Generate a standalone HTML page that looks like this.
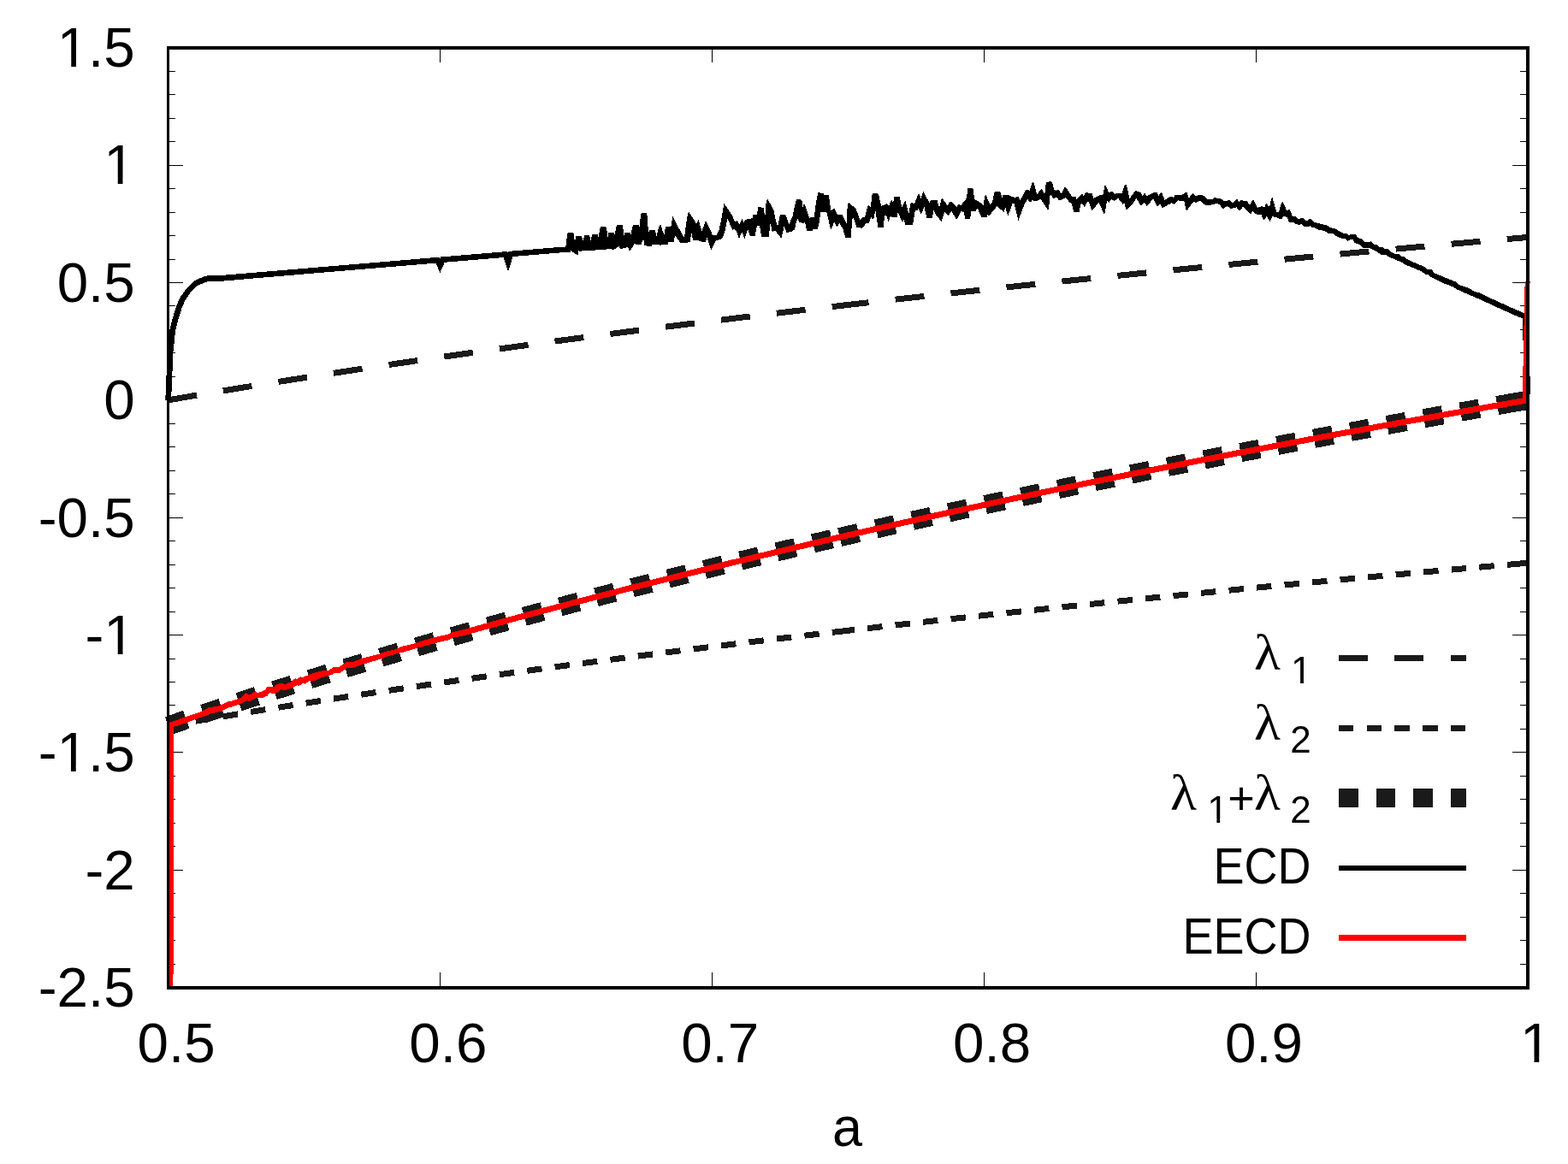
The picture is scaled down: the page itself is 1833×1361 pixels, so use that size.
<!DOCTYPE html>
<html lang="en"><head><meta charset="utf-8"><title>ECD and EECD versus a</title>
<style>html,body{margin:0;padding:0;background:#fff}body{width:1833px;height:1361px;overflow:hidden}svg{display:block}.t{font-family:"Liberation Sans",sans-serif;font-size:65.5px;fill:#000}.k{font-family:"Liberation Sans",sans-serif;font-size:54px;fill:#000}.ks{font-family:"Liberation Sans",sans-serif;font-size:44px;fill:#000}.g{font-family:"Liberation Serif",serif;font-size:58px;fill:#000}</style></head><body>
<svg width="1833" height="1361" viewBox="0 0 1833 1361">
<rect x="0" y="0" width="1833" height="1361" fill="#fff"/>
<defs><clipPath id="plot"><rect x="193.2" y="54" width="1596" height="1103"/></clipPath></defs>
<g fill="#000" shape-rendering="crispEdges">
<rect x="198" y="83" width="7" height="1"/>
<rect x="1777" y="83" width="7" height="1"/>
<rect x="198" y="110" width="7" height="1"/>
<rect x="1777" y="110" width="7" height="1"/>
<rect x="198" y="138" width="7" height="1"/>
<rect x="1777" y="138" width="7" height="1"/>
<rect x="198" y="165" width="7" height="1"/>
<rect x="1777" y="165" width="7" height="1"/>
<rect x="198" y="193" width="16" height="1"/>
<rect x="1768" y="193" width="16" height="1"/>
<rect x="198" y="220" width="7" height="1"/>
<rect x="1777" y="220" width="7" height="1"/>
<rect x="198" y="248" width="7" height="1"/>
<rect x="1777" y="248" width="7" height="1"/>
<rect x="198" y="275" width="7" height="1"/>
<rect x="1777" y="275" width="7" height="1"/>
<rect x="198" y="303" width="7" height="1"/>
<rect x="1777" y="303" width="7" height="1"/>
<rect x="198" y="330" width="16" height="1"/>
<rect x="1768" y="330" width="16" height="1"/>
<rect x="198" y="357" width="7" height="1"/>
<rect x="1777" y="357" width="7" height="1"/>
<rect x="198" y="385" width="7" height="1"/>
<rect x="1777" y="385" width="7" height="1"/>
<rect x="198" y="412" width="7" height="1"/>
<rect x="1777" y="412" width="7" height="1"/>
<rect x="198" y="440" width="7" height="1"/>
<rect x="1777" y="440" width="7" height="1"/>
<rect x="198" y="467" width="16" height="1"/>
<rect x="1768" y="467" width="16" height="1"/>
<rect x="198" y="495" width="7" height="1"/>
<rect x="1777" y="495" width="7" height="1"/>
<rect x="198" y="522" width="7" height="1"/>
<rect x="1777" y="522" width="7" height="1"/>
<rect x="198" y="550" width="7" height="1"/>
<rect x="1777" y="550" width="7" height="1"/>
<rect x="198" y="577" width="7" height="1"/>
<rect x="1777" y="577" width="7" height="1"/>
<rect x="198" y="605" width="16" height="1"/>
<rect x="1768" y="605" width="16" height="1"/>
<rect x="198" y="632" width="7" height="1"/>
<rect x="1777" y="632" width="7" height="1"/>
<rect x="198" y="660" width="7" height="1"/>
<rect x="1777" y="660" width="7" height="1"/>
<rect x="198" y="687" width="7" height="1"/>
<rect x="1777" y="687" width="7" height="1"/>
<rect x="198" y="715" width="7" height="1"/>
<rect x="1777" y="715" width="7" height="1"/>
<rect x="198" y="742" width="16" height="1"/>
<rect x="1768" y="742" width="16" height="1"/>
<rect x="198" y="770" width="7" height="1"/>
<rect x="1777" y="770" width="7" height="1"/>
<rect x="198" y="797" width="7" height="1"/>
<rect x="1777" y="797" width="7" height="1"/>
<rect x="198" y="824" width="7" height="1"/>
<rect x="1777" y="824" width="7" height="1"/>
<rect x="198" y="852" width="7" height="1"/>
<rect x="1777" y="852" width="7" height="1"/>
<rect x="198" y="879" width="16" height="1"/>
<rect x="1768" y="879" width="16" height="1"/>
<rect x="198" y="907" width="7" height="1"/>
<rect x="1777" y="907" width="7" height="1"/>
<rect x="198" y="934" width="7" height="1"/>
<rect x="1777" y="934" width="7" height="1"/>
<rect x="198" y="962" width="7" height="1"/>
<rect x="1777" y="962" width="7" height="1"/>
<rect x="198" y="989" width="7" height="1"/>
<rect x="1777" y="989" width="7" height="1"/>
<rect x="198" y="1017" width="16" height="1"/>
<rect x="1768" y="1017" width="16" height="1"/>
<rect x="198" y="1044" width="7" height="1"/>
<rect x="1777" y="1044" width="7" height="1"/>
<rect x="198" y="1072" width="7" height="1"/>
<rect x="1777" y="1072" width="7" height="1"/>
<rect x="198" y="1099" width="7" height="1"/>
<rect x="1777" y="1099" width="7" height="1"/>
<rect x="198" y="1127" width="7" height="1"/>
<rect x="1777" y="1127" width="7" height="1"/>
<rect x="514" y="58" width="1" height="15"/>
<rect x="514" y="1137" width="1" height="16"/>
<rect x="832" y="58" width="1" height="15"/>
<rect x="832" y="1137" width="1" height="16"/>
<rect x="1150" y="58" width="1" height="15"/>
<rect x="1150" y="1137" width="1" height="16"/>
<rect x="1468" y="58" width="1" height="15"/>
<rect x="1468" y="1137" width="1" height="16"/>
</g>
<g fill="none" shape-rendering="crispEdges" clip-path="url(#plot)">
<polyline points="196.5,467.85 200.49,467.16 204.47,466.48 208.46,465.79 212.44,465.11 216.43,464.43 220.41,463.75 224.4,463.07 228.39,462.39 232.37,461.72 236.36,461.05 240.34,460.38 244.33,459.71 248.32,459.04 252.3,458.37 256.29,457.71 260.27,457.04 264.26,456.38 268.24,455.72 272.23,455.06 276.22,454.41 280.2,453.75 284.19,453.1 288.17,452.45 292.16,451.8 296.14,451.15 300.13,450.5 304.12,449.85 308.1,449.21 312.09,448.57 316.07,447.92 320.06,447.28 324.05,446.65 328.03,446.01 332.02,445.37 336,444.74 339.99,444.11 343.97,443.48 347.96,442.85 351.95,442.22 355.93,441.59 359.92,440.97 363.9,440.34 367.89,439.72 371.87,439.1 375.86,438.48 379.85,437.86 383.83,437.24 387.82,436.63 391.8,436.01 395.79,435.4 399.78,434.79 403.76,434.18 407.75,433.57 411.73,432.96 415.72,432.36 419.7,431.75 423.69,431.15 427.68,430.55 431.66,429.95 435.65,429.35 439.63,428.75 443.62,428.15 447.6,427.56 451.59,426.96 455.58,426.37 459.56,425.78 463.55,425.19 467.53,424.6 471.52,424.01 475.51,423.42 479.49,422.84 483.48,422.25 487.46,421.67 491.45,421.09 495.43,420.51 499.42,419.93 503.41,419.35 507.39,418.77 511.38,418.2 515.36,417.62 519.35,417.05 523.33,416.48 527.32,415.91 531.31,415.34 535.29,414.77 539.28,414.2 543.26,413.64 547.25,413.07 551.24,412.51 555.22,411.95 559.21,411.38 563.19,410.82 567.18,410.27 571.16,409.71 575.15,409.15 579.14,408.59 583.12,408.04 587.11,407.49 591.09,406.93 595.08,406.38 599.06,405.83 603.05,405.28 607.04,404.74 611.02,404.19 615.01,403.64 618.99,403.1 622.98,402.55 626.96,402.01 630.95,401.47 634.94,400.93 638.92,400.39 642.91,399.85 646.89,399.31 650.88,398.78 654.87,398.24 658.85,397.71 662.84,397.18 666.82,396.64 670.81,396.11 674.79,395.58 678.78,395.05 682.77,394.53 686.75,394 690.74,393.47 694.72,392.95 698.71,392.42 702.69,391.9 706.68,391.38 710.67,390.86 714.65,390.34 718.64,389.82 722.62,389.3 726.61,388.78 730.6,388.27 734.58,387.75 738.57,387.24 742.55,386.73 746.54,386.21 750.52,385.7 754.51,385.19 758.5,384.68 762.48,384.17 766.47,383.67 770.45,383.16 774.44,382.65 778.42,382.15 782.41,381.65 786.4,381.14 790.38,380.64 794.37,380.14 798.35,379.64 802.34,379.14 806.33,378.64 810.31,378.14 814.3,377.65 818.28,377.15 822.27,376.66 826.25,376.16 830.24,375.67 834.23,375.18 838.21,374.69 842.2,374.2 846.18,373.71 850.17,373.22 854.15,372.73 858.14,372.24 862.13,371.76 866.11,371.27 870.1,370.79 874.08,370.31 878.07,369.82 882.06,369.34 886.04,368.86 890.03,368.38 894.01,367.9 898,367.42 901.98,366.95 905.97,366.47 909.96,365.99 913.94,365.52 917.93,365.04 921.91,364.57 925.9,364.1 929.88,363.63 933.87,363.16 937.86,362.68 941.84,362.22 945.83,361.75 949.81,361.28 953.8,360.81 957.79,360.35 961.77,359.88 965.76,359.42 969.74,358.95 973.73,358.49 977.71,358.03 981.7,357.57" stroke="#1a1a1a" stroke-width="7" stroke-dasharray="34 31.33"/>
<polyline points="981.7,357.57 985.69,357.1 989.67,356.64 993.66,356.19 997.64,355.73 1001.63,355.27 1005.61,354.81 1009.6,354.36 1013.59,353.9 1017.57,353.45 1021.56,352.99 1025.54,352.54 1029.53,352.09 1033.52,351.64 1037.5,351.18 1041.49,350.73 1045.47,350.29 1049.46,349.84 1053.44,349.39 1057.43,348.94 1061.42,348.5 1065.4,348.05 1069.39,347.6 1073.37,347.16 1077.36,346.72 1081.34,346.27 1085.33,345.83 1089.32,345.39 1093.3,344.95 1097.29,344.51 1101.27,344.07 1105.26,343.63 1109.25,343.19 1113.23,342.76 1117.22,342.32 1121.2,341.88 1125.19,341.45 1129.17,341.01 1133.16,340.58 1137.15,340.15 1141.13,339.71 1145.12,339.28 1149.1,338.85 1153.09,338.42 1157.07,337.99 1161.06,337.56 1165.05,337.13 1169.03,336.71 1173.02,336.28 1177,335.85 1180.99,335.43 1184.98,335 1188.96,334.58 1192.95,334.15 1196.93,333.73 1200.92,333.31 1204.9,332.89 1208.89,332.47 1212.88,332.05 1216.86,331.63 1220.85,331.21 1224.83,330.79 1228.82,330.37 1232.8,329.95 1236.79,329.54 1240.78,329.12 1244.76,328.7 1248.75,328.29 1252.73,327.88 1256.72,327.46 1260.71,327.05 1264.69,326.64 1268.68,326.23 1272.66,325.81 1276.65,325.4 1280.63,324.99 1284.62,324.58 1288.61,324.18 1292.59,323.77 1296.58,323.36 1300.56,322.95 1304.55,322.55 1308.53,322.14 1312.52,321.74 1316.51,321.33 1320.49,320.93 1324.48,320.53 1328.46,320.12 1332.45,319.72 1336.44,319.32 1340.42,318.92 1344.41,318.52 1348.39,318.12 1352.38,317.72 1356.36,317.32 1360.35,316.92 1364.34,316.53 1368.32,316.13 1372.31,315.73 1376.29,315.34 1380.28,314.94 1384.26,314.55 1388.25,314.15 1392.24,313.76 1396.22,313.37 1400.21,312.97 1404.19,312.58 1408.18,312.19 1412.16,311.8 1416.15,311.41 1420.14,311.02 1424.12,310.63 1428.11,310.24 1432.09,309.86 1436.08,309.47 1440.07,309.08 1444.05,308.7 1448.04,308.31 1452.02,307.93 1456.01,307.54 1459.99,307.16 1463.98,306.77 1467.97,306.39 1471.95,306.01 1475.94,305.63 1479.92,305.24 1483.91,304.86 1487.89,304.48 1491.88,304.1 1495.87,303.72 1499.85,303.35 1503.84,302.97 1507.82,302.59 1511.81,302.21 1515.8,301.84 1519.78,301.46 1523.77,301.08 1527.75,300.71 1531.74,300.33 1535.72,299.96 1539.71,299.59 1543.7,299.21 1547.68,298.84 1551.67,298.47 1555.65,298.1 1559.64,297.73 1563.62,297.36 1567.61,296.99 1571.6,296.62 1575.58,296.25 1579.57,295.88 1583.55,295.51 1587.54,295.14 1591.53,294.78 1595.51,294.41 1599.5,294.04 1603.48,293.68 1607.47,293.31 1611.45,292.95 1615.44,292.58 1619.43,292.22 1623.41,291.86 1627.4,291.49 1631.38,291.13 1635.37,290.77 1639.35,290.41 1643.34,290.05 1647.33,289.69 1651.31,289.33 1655.3,288.97 1659.28,288.61 1663.27,288.25 1667.26,287.89 1671.24,287.53 1675.23,287.18 1679.21,286.82 1683.2,286.46 1687.18,286.11 1691.17,285.75 1695.16,285.4 1699.14,285.04 1703.13,284.69 1707.11,284.34 1711.1,283.98 1715.08,283.63 1719.07,283.28 1723.06,282.93 1727.04,282.58 1731.03,282.23 1735.01,281.88 1739,281.53 1742.99,281.18 1746.97,280.83 1750.96,280.48 1754.94,280.13 1758.93,279.78 1762.91,279.44 1766.9,279.09" stroke="#1a1a1a" stroke-width="7" stroke-dasharray="34 31.33"/>
<polyline points="1766.9,279.09 1769.28,278.88 1771.65,278.68 1774.03,278.47 1776.4,278.26 1778.78,278.06 1781.15,277.85 1783.53,277.65 1785.9,277.44" stroke="#1a1a1a" stroke-width="7" stroke-dasharray="34 31.33"/>
<polyline points="196.5,848.67 200.49,847.98 204.47,847.29 208.46,846.61 212.44,845.92 216.43,845.24 220.41,844.56 224.4,843.88 228.39,843.21 232.37,842.53 236.36,841.86 240.34,841.19 244.33,840.52 248.32,839.85 252.3,839.19 256.29,838.52 260.27,837.86 264.26,837.2 268.24,836.54 272.23,835.88 276.22,835.22 280.2,834.57 284.19,833.91 288.17,833.26 292.16,832.61 296.14,831.96 300.13,831.31 304.12,830.67 308.1,830.02 312.09,829.38 316.07,828.74 320.06,828.1 324.05,827.46 328.03,826.82 332.02,826.19 336,825.55 339.99,824.92 343.97,824.29 347.96,823.66 351.95,823.03 355.93,822.41 359.92,821.78 363.9,821.16 367.89,820.53 371.87,819.91 375.86,819.29 379.85,818.68 383.83,818.06 387.82,817.44 391.8,816.83 395.79,816.22 399.78,815.6 403.76,814.99 407.75,814.39 411.73,813.78 415.72,813.17 419.7,812.57 423.69,811.96 427.68,811.36 431.66,810.76 435.65,810.16 439.63,809.56 443.62,808.97 447.6,808.37 451.59,807.78 455.58,807.18 459.56,806.59 463.55,806 467.53,805.41 471.52,804.82 475.51,804.24 479.49,803.65 483.48,803.07 487.46,802.49 491.45,801.9 495.43,801.32 499.42,800.74 503.41,800.17 507.39,799.59 511.38,799.01 515.36,798.44 519.35,797.87 523.33,797.29 527.32,796.72 531.31,796.15 535.29,795.59 539.28,795.02 543.26,794.45 547.25,793.89 551.24,793.32 555.22,792.76 559.21,792.2 563.19,791.64 567.18,791.08 571.16,790.52 575.15,789.97 579.14,789.41 583.12,788.85 587.11,788.3 591.09,787.75 595.08,787.2 599.06,786.65 603.05,786.1 607.04,785.55 611.02,785 615.01,784.46 618.99,783.91 622.98,783.37 626.96,782.83 630.95,782.29 634.94,781.74 638.92,781.21 642.91,780.67 646.89,780.13 650.88,779.59 654.87,779.06 658.85,778.52 662.84,777.99 666.82,777.46 670.81,776.93 674.79,776.4 678.78,775.87 682.77,775.34 686.75,774.81 690.74,774.29 694.72,773.76 698.71,773.24 702.69,772.72 706.68,772.19 710.67,771.67 714.65,771.15 718.64,770.63 722.62,770.12 726.61,769.6 730.6,769.08 734.58,768.57 738.57,768.05 742.55,767.54 746.54,767.03 750.52,766.52 754.51,766.01 758.5,765.5 762.48,764.99 766.47,764.48 770.45,763.97 774.44,763.47 778.42,762.96 782.41,762.46 786.4,761.96 790.38,761.46 794.37,760.95 798.35,760.45 802.34,759.95 806.33,759.46 810.31,758.96 814.3,758.46 818.28,757.97 822.27,757.47 826.25,756.98 830.24,756.49 834.23,755.99 838.21,755.5 842.2,755.01 846.18,754.52 850.17,754.03 854.15,753.55 858.14,753.06 862.13,752.57 866.11,752.09 870.1,751.6 874.08,751.12 878.07,750.64 882.06,750.16 886.04,749.68 890.03,749.2 894.01,748.72 898,748.24 901.98,747.76 905.97,747.28 909.96,746.81 913.94,746.33 917.93,745.86 921.91,745.39 925.9,744.91 929.88,744.44 933.87,743.97 937.86,743.5 941.84,743.03 945.83,742.56 949.81,742.09 953.8,741.63 957.79,741.16 961.77,740.7 965.76,740.23 969.74,739.77 973.73,739.3 977.71,738.84 981.7,738.38" stroke="#1a1a1a" stroke-width="7" stroke-dasharray="17.4 15.27"/>
<polyline points="981.7,738.38 985.69,737.92 989.67,737.46 993.66,737 997.64,736.54 1001.63,736.08 1005.61,735.63 1009.6,735.17 1013.59,734.72 1017.57,734.26 1021.56,733.81 1025.54,733.35 1029.53,732.9 1033.52,732.45 1037.5,732 1041.49,731.55 1045.47,731.1 1049.46,730.65 1053.44,730.2 1057.43,729.76 1061.42,729.31 1065.4,728.86 1069.39,728.42 1073.37,727.98 1077.36,727.53 1081.34,727.09 1085.33,726.65 1089.32,726.21 1093.3,725.76 1097.29,725.32 1101.27,724.89 1105.26,724.45 1109.25,724.01 1113.23,723.57 1117.22,723.13 1121.2,722.7 1125.19,722.26 1129.17,721.83 1133.16,721.4 1137.15,720.96 1141.13,720.53 1145.12,720.1 1149.1,719.67 1153.09,719.24 1157.07,718.81 1161.06,718.38 1165.05,717.95 1169.03,717.52 1173.02,717.09 1177,716.67 1180.99,716.24 1184.98,715.82 1188.96,715.39 1192.95,714.97 1196.93,714.55 1200.92,714.12 1204.9,713.7 1208.89,713.28 1212.88,712.86 1216.86,712.44 1220.85,712.02 1224.83,711.6 1228.82,711.18 1232.8,710.77 1236.79,710.35 1240.78,709.93 1244.76,709.52 1248.75,709.1 1252.73,708.69 1256.72,708.28 1260.71,707.86 1264.69,707.45 1268.68,707.04 1272.66,706.63 1276.65,706.22 1280.63,705.81 1284.62,705.4 1288.61,704.99 1292.59,704.58 1296.58,704.18 1300.56,703.77 1304.55,703.36 1308.53,702.96 1312.52,702.55 1316.51,702.15 1320.49,701.74 1324.48,701.34 1328.46,700.94 1332.45,700.54 1336.44,700.13 1340.42,699.73 1344.41,699.33 1348.39,698.93 1352.38,698.53 1356.36,698.14 1360.35,697.74 1364.34,697.34 1368.32,696.94 1372.31,696.55 1376.29,696.15 1380.28,695.76 1384.26,695.36 1388.25,694.97 1392.24,694.57 1396.22,694.18 1400.21,693.79 1404.19,693.4 1408.18,693.01 1412.16,692.62 1416.15,692.23 1420.14,691.84 1424.12,691.45 1428.11,691.06 1432.09,690.67 1436.08,690.28 1440.07,689.9 1444.05,689.51 1448.04,689.13 1452.02,688.74 1456.01,688.36 1459.99,687.97 1463.98,687.59 1467.97,687.21 1471.95,686.82 1475.94,686.44 1479.92,686.06 1483.91,685.68 1487.89,685.3 1491.88,684.92 1495.87,684.54 1499.85,684.16 1503.84,683.78 1507.82,683.4 1511.81,683.03 1515.8,682.65 1519.78,682.27 1523.77,681.9 1527.75,681.52 1531.74,681.15 1535.72,680.77 1539.71,680.4 1543.7,680.03 1547.68,679.66 1551.67,679.28 1555.65,678.91 1559.64,678.54 1563.62,678.17 1567.61,677.8 1571.6,677.43 1575.58,677.06 1579.57,676.69 1583.55,676.32 1587.54,675.96 1591.53,675.59 1595.51,675.22 1599.5,674.86 1603.48,674.49 1607.47,674.13 1611.45,673.76 1615.44,673.4 1619.43,673.03 1623.41,672.67 1627.4,672.31 1631.38,671.95 1635.37,671.58 1639.35,671.22 1643.34,670.86 1647.33,670.5 1651.31,670.14 1655.3,669.78 1659.28,669.42 1663.27,669.06 1667.26,668.71 1671.24,668.35 1675.23,667.99 1679.21,667.64 1683.2,667.28 1687.18,666.92 1691.17,666.57 1695.16,666.21 1699.14,665.86 1703.13,665.51 1707.11,665.15 1711.1,664.8 1715.08,664.45 1719.07,664.09 1723.06,663.74 1727.04,663.39 1731.03,663.04 1735.01,662.69 1739,662.34 1742.99,661.99 1746.97,661.64 1750.96,661.29 1754.94,660.95 1758.93,660.6 1762.91,660.25 1766.9,659.9" stroke="#1a1a1a" stroke-width="7" stroke-dasharray="17.4 15.27"/>
<polyline points="1766.9,659.9 1769.28,659.7 1771.65,659.49 1774.03,659.29 1776.4,659.08 1778.78,658.87 1781.15,658.67 1783.53,658.46 1785.9,658.26" stroke="#1a1a1a" stroke-width="7" stroke-dasharray="17.4 15.27"/>
<polyline points="196.5,848.67 200.49,847.29 204.47,845.92 208.46,844.55 212.44,843.18 216.43,841.82 220.41,840.46 224.4,839.1 228.39,837.75 232.37,836.4 236.36,835.06 240.34,833.72 244.33,832.38 248.32,831.04 252.3,829.71 256.29,828.38 260.27,827.05 264.26,825.73 268.24,824.41 272.23,823.09 276.22,821.78 280.2,820.47 284.19,819.16 288.17,817.86 292.16,816.56 296.14,815.26 300.13,813.96 304.12,812.67 308.1,811.38 312.09,810.1 316.07,808.81 320.06,807.53 324.05,806.26 328.03,804.98 332.02,803.71 336,802.44 339.99,801.18 343.97,799.92 347.96,798.66 351.95,797.4 355.93,796.15 359.92,794.9 363.9,793.65 367.89,792.4 371.87,791.16 375.86,789.92 379.85,788.69 383.83,787.45 387.82,786.22 391.8,784.99 395.79,783.77 399.78,782.54 403.76,781.32 407.75,780.11 411.73,778.89 415.72,777.68 419.7,776.47 423.69,775.26 427.68,774.06 431.66,772.86 435.65,771.66 439.63,770.46 443.62,769.27 447.6,768.08 451.59,766.89 455.58,765.7 459.56,764.52 463.55,763.34 467.53,762.16 471.52,760.98 475.51,759.81 479.49,758.64 483.48,757.47 487.46,756.31 491.45,755.14 495.43,753.98 499.42,752.82 503.41,751.67 507.39,750.51 511.38,749.36 515.36,748.21 519.35,747.07 523.33,745.92 527.32,744.78 531.31,743.64 535.29,742.51 539.28,741.37 543.26,740.24 547.25,739.11 551.24,737.98 555.22,736.86 559.21,735.73 563.19,734.61 567.18,733.5 571.16,732.38 575.15,731.27 579.14,730.15 583.12,729.04 587.11,727.94 591.09,726.83 595.08,725.73 599.06,724.63 603.05,723.53 607.04,722.44 611.02,721.34 615.01,720.25 618.99,719.16 622.98,718.07 626.96,716.99 630.95,715.91 634.94,714.82 638.92,713.75 642.91,712.67 646.89,711.59 650.88,710.52 654.87,709.45 658.85,708.38 662.84,707.32 666.82,706.25 670.81,705.19 674.79,704.13 678.78,703.07 682.77,702.02 686.75,700.96 690.74,699.91 694.72,698.86 698.71,697.81 702.69,696.77 706.68,695.72 710.67,694.68 714.65,693.64 718.64,692.6 722.62,691.57 726.61,690.53 730.6,689.5 734.58,688.47 738.57,687.44 742.55,686.42 746.54,685.39 750.52,684.37 754.51,683.35 758.5,682.33 762.48,681.31 766.47,680.3 770.45,679.28 774.44,678.27 778.42,677.26 782.41,676.26 786.4,675.25 790.38,674.25 794.37,673.24 798.35,672.24 802.34,671.24 806.33,670.25 810.31,669.25 814.3,668.26 818.28,667.27 822.27,666.28 826.25,665.29 830.24,664.31 834.23,663.32 838.21,662.34 842.2,661.36 846.18,660.38 850.17,659.4 854.15,658.43 858.14,657.45 862.13,656.48 866.11,655.51 870.1,654.54 874.08,653.58 878.07,652.61 882.06,651.65 886.04,650.69 890.03,649.73 894.01,648.77 898,647.81 901.98,646.86 905.97,645.9 909.96,644.95 913.94,644 917.93,643.05 921.91,642.11 925.9,641.16 929.88,640.22 933.87,639.28 937.86,638.33 941.84,637.4 945.83,636.46 949.81,635.52 953.8,634.59 957.79,633.66 961.77,632.73 965.76,631.8 969.74,630.87 973.73,629.94 977.71,629.02 981.7,628.1" stroke="#1a1a1a" stroke-width="22.2" stroke-dasharray="22.5 21.05"/>
<polyline points="981.7,628.1 985.69,627.17 989.67,626.25 993.66,625.34 997.64,624.42 1001.63,623.5 1005.61,622.59 1009.6,621.68 1013.59,620.77 1017.57,619.86 1021.56,618.95 1025.54,618.04 1029.53,617.14 1033.52,616.24 1037.5,615.34 1041.49,614.43 1045.47,613.54 1049.46,612.64 1053.44,611.74 1057.43,610.85 1061.42,609.96 1065.4,609.06 1069.39,608.17 1073.37,607.29 1077.36,606.4 1081.34,605.51 1085.33,604.63 1089.32,603.75 1093.3,602.86 1097.29,601.98 1101.27,601.1 1105.26,600.23 1109.25,599.35 1113.23,598.48 1117.22,597.6 1121.2,596.73 1125.19,595.86 1129.17,594.99 1133.16,594.13 1137.15,593.26 1141.13,592.39 1145.12,591.53 1149.1,590.67 1153.09,589.81 1157.07,588.95 1161.06,588.09 1165.05,587.23 1169.03,586.38 1173.02,585.52 1177,584.67 1180.99,583.82 1184.98,582.97 1188.96,582.12 1192.95,581.27 1196.93,580.43 1200.92,579.58 1204.9,578.74 1208.89,577.9 1212.88,577.06 1216.86,576.22 1220.85,575.38 1224.83,574.54 1228.82,573.7 1232.8,572.87 1236.79,572.04 1240.78,571.2 1244.76,570.37 1248.75,569.54 1252.73,568.72 1256.72,567.89 1260.71,567.06 1264.69,566.24 1268.68,565.42 1272.66,564.59 1276.65,563.77 1280.63,562.95 1284.62,562.13 1288.61,561.32 1292.59,560.5 1296.58,559.69 1300.56,558.87 1304.55,558.06 1308.53,557.25 1312.52,556.44 1316.51,555.63 1320.49,554.82 1324.48,554.02 1328.46,553.21 1332.45,552.41 1336.44,551.6 1340.42,550.8 1344.41,550 1348.39,549.2 1352.38,548.4 1356.36,547.61 1360.35,546.81 1364.34,546.02 1368.32,545.22 1372.31,544.43 1376.29,543.64 1380.28,542.85 1384.26,542.06 1388.25,541.27 1392.24,540.48 1396.22,539.7 1400.21,538.91 1404.19,538.13 1408.18,537.35 1412.16,536.57 1416.15,535.79 1420.14,535.01 1424.12,534.23 1428.11,533.45 1432.09,532.68 1436.08,531.9 1440.07,531.13 1444.05,530.36 1448.04,529.59 1452.02,528.82 1456.01,528.05 1459.99,527.28 1463.98,526.51 1467.97,525.75 1471.95,524.98 1475.94,524.22 1479.92,523.45 1483.91,522.69 1487.89,521.93 1491.88,521.17 1495.87,520.41 1499.85,519.66 1503.84,518.9 1507.82,518.14 1511.81,517.39 1515.8,516.64 1519.78,515.88 1523.77,515.13 1527.75,514.38 1531.74,513.63 1535.72,512.88 1539.71,512.14 1543.7,511.39 1547.68,510.65 1551.67,509.9 1555.65,509.16 1559.64,508.42 1563.62,507.68 1567.61,506.94 1571.6,506.2 1575.58,505.46 1579.57,504.72 1583.55,503.98 1587.54,503.25 1591.53,502.52 1595.51,501.78 1599.5,501.05 1603.48,500.32 1607.47,499.59 1611.45,498.86 1615.44,498.13 1619.43,497.4 1623.41,496.68 1627.4,495.95 1631.38,495.23 1635.37,494.5 1639.35,493.78 1643.34,493.06 1647.33,492.34 1651.31,491.62 1655.3,490.9 1659.28,490.18 1663.27,489.46 1667.26,488.75 1671.24,488.03 1675.23,487.32 1679.21,486.61 1683.2,485.89 1687.18,485.18 1691.17,484.47 1695.16,483.76 1699.14,483.05 1703.13,482.35 1707.11,481.64 1711.1,480.93 1715.08,480.23 1719.07,479.52 1723.06,478.82 1727.04,478.12 1731.03,477.42 1735.01,476.72 1739,476.02 1742.99,475.32 1746.97,474.62 1750.96,473.92 1754.94,473.23 1758.93,472.53 1762.91,471.84 1766.9,471.14" stroke="#1a1a1a" stroke-width="22.2" stroke-dasharray="22.5 21.05"/>
<polyline points="1766.9,471.14 1769.28,470.73 1771.65,470.32 1774.03,469.91 1776.4,469.49 1778.78,469.08 1781.15,468.67 1783.53,468.26 1785.9,467.85" stroke="#1a1a1a" stroke-width="22.2" stroke-dasharray="22.5 21.05"/>
<polyline points="196.7,468 196.7,466 197.4,452.1 198.2,432.3 199,412.4 201,392.6 201.8,386 205.1,372.8 209.2,359.5 213,350.3 220.3,339.7 226.9,333.1 228.7,331.2 237.9,327.2 244.5,325.4 257.8,325.5 285,323.1" stroke="#000" stroke-width="6.8" stroke-linejoin="round"/>
<polyline points="285,323.1 511.22,304.17 514.4,310.8 517.58,303.63 590.72,297.51 593.9,307.05 597.08,296.98 652,292.38" stroke="#000" stroke-width="6.6" stroke-linejoin="miter" stroke-miterlimit="4"/>
<polygon points="650,289.08 661.05,289.08 661.87,285.65 663.09,274.19 664.32,272.14 670.05,272.14 670.87,274.19 671.28,279.92 672.91,279.92 673.32,276.24 679.87,276.24 681.51,281.15 682.32,279.1 683.14,275.17 688.87,275.17 690.51,281.15 691.33,278.28 692.14,274.19 698.69,274.19 699.51,277.05 701.15,268.05 702.37,265.19 708.1,265.19 708.92,266.42 710.56,277.05 711.37,272.14 717.92,272.14 718.74,275.01 719.97,267.23 721.19,263.14 727.33,263.14 728.15,264.37 729.38,275.83 730.2,272.14 736.74,272.14 737.56,274.19 739.2,266.01 740.02,263.14 746.97,263.14 747.38,266.01 748.2,258.23 749.43,249.64 750.25,249.07 755.97,249.07 756.79,254.14 758.02,272.14 759.25,269.28 765.79,269.28 767.43,275.83 769.07,269.28 771.11,263.14 772.75,263.14 774.39,269.28 776.43,274.19 778.07,265.19 784.21,265.19 786.55,252.98 789.41,259.28 800.05,278.27 801.69,264.6 804.14,249.05 805.37,248.07 812.73,259.28 813.96,262.14 816.42,256.99 820.51,269.92 825.01,257.89 833.19,274.99 837.69,274.99 840.56,269.1 843.42,255.19 845.47,243.32 846.45,238 855.7,251.51 858.97,259.28 861.83,258.05 864.29,262.14 867.4,256.01 869.61,260.1 870.83,257.23 874.11,256.01 879.84,255.19 880.25,251.1 884.75,251.1 886.38,242.09 892.93,242.91 894.16,255.19 895.79,234.32 897.43,232.93 904.39,245.37 908.07,262.96 909.71,262.96 911.75,251.51 918.3,251.1 922.39,262.14 926.48,252.73 930.23,235.28 931.46,233.07 935.96,233.07 938,235.28 938.17,243.05 939.23,238.96 940.87,238.96 946.19,254.92 947.41,254.1 951.91,254.1 953.14,241.82 955.19,230.37 956.42,225.05 958.87,225.05 959.28,226.28 962.55,226.28 963.37,228.32 968.69,228.32 971.55,245.92 974.42,243.87 975.65,244.28 978.92,251.24 984.65,251.24 989.56,261.46 990.79,238.55 992.42,236.91 1000.61,244.28 1005.52,257.37 1007.97,254.1 1010.83,254.1 1014.11,241.82 1015.34,239.78 1017.79,242.23 1019.43,228.32 1020.65,226.11 1025.97,226.11 1027.2,227.91 1030.07,241.01 1037.43,238.14 1037.84,240.19 1039.89,240.19 1040.7,236.1 1042.34,234.05 1043.16,236.1 1045.2,234.05 1045.2,230.12 1051.75,230.12 1054.21,243.05 1058.3,234.05 1062.39,250.01 1064.44,238.14 1065.73,236.98 1067.77,237.96 1069.41,237.14 1073.09,227.32 1074.73,227.32 1076.78,232.23 1078.82,224.46 1079.64,223.89 1086.35,237.14 1088.23,234.12 1095.6,234.12 1097.23,241.24 1098.87,241.24 1100.1,233.05 1101.57,231.99 1107.46,240.01 1110.33,236.16 1112.37,236.16 1118.51,242.05 1120.15,239.19 1121.37,239.19 1123.42,240.01 1129.97,231.82 1131.19,220.2 1136.92,220.2 1137.91,221.19 1138.97,233.05 1145.11,236.33 1149.61,240.01 1151.24,228.96 1152.47,227.98 1157.38,239.19 1159.84,237.14 1162.29,224.87 1163.52,224.05 1168.84,224.05 1170.07,225.28 1171.29,231.82 1172.27,228.14 1178.66,228.14 1186.43,231.01 1189.71,230.02 1190.93,230.19 1192.57,234.12 1199.12,222 1202.39,222 1203.62,223.07 1206.14,214.96 1207.53,213.16 1208.59,214.14 1212.27,227.23 1216.78,221.34 1217.84,221.1 1220.46,226.01 1221.93,225.19 1222.26,217 1223.32,213.16 1225.78,213.16 1226.6,212.09 1228.64,212.09 1230.28,214.14 1231.91,221.1 1234.37,223.14 1235.6,222.16 1237.64,222.16 1240.67,226.25 1244.19,219.3 1245.42,219.05 1247.46,221.1 1253.19,230.1 1257.69,230.1 1258.27,232.96 1264.24,227.23 1265.47,227.23 1266.45,229.12 1269.15,225.19 1271.19,225.19 1272.01,226.01 1276.92,226.01 1278.15,232.14 1285.92,228.3 1288.79,228.05 1290.02,226.01 1291.24,217 1292.88,217 1296.15,225.19 1298.61,224.21 1300.25,224.21 1303.52,227.23 1304.75,226.01 1311.7,226.01 1312.52,223.14 1314.98,216.19 1316.61,216.19 1318.25,221.91 1320.29,232.14 1326.84,223.55 1328.07,222.98 1333.39,225.19 1335.84,229.12 1337.07,226.25 1338.3,226.01 1340.34,229.12 1344.84,227.23 1346.14,226.1 1349.41,225.11 1352.68,225.11 1354.57,228.96 1356.78,225.28 1358.17,225.28 1361.44,233.87 1367.41,230.19 1371.1,230.19 1371.91,231.01 1373.96,227.16 1375.19,228.14 1381.73,228.14 1385.01,225.28 1387.87,225.28 1389.1,231.01 1390.33,231.01 1394.01,226.1 1394.83,226.1 1398.27,229.21 1400.56,228.14 1405.47,228.14 1407.51,228.96 1411.19,233.05 1416.92,233.05 1419.79,231.01 1421.01,231.01 1422.65,232.07 1425.52,232.07 1428.38,233.05 1430.43,235.1 1434.11,235.1 1435.34,234.12 1437.38,234.12 1441.06,237.39 1445.16,233.05 1446.38,233.05 1448.43,235.92 1450.47,234.12 1452.52,234.12 1453.75,234.93 1457.43,234.93 1460.7,239.19 1461.93,238.78 1463.98,234.12 1465.61,234.12 1470.11,242.87 1474.21,241.24 1475.84,241.24 1478.3,242.87 1479.93,238.37 1480.75,237.96 1482.8,241.24 1484.44,240.99 1484.91,237 1486.14,232.09 1487.53,231.11 1492.27,248.05 1494.73,248.05 1498,237.41 1499.64,236.19 1504.14,246.01 1507,245.02 1508.23,246.01 1511.1,252.96 1514.37,252.96 1517.64,255.99 1519.28,255.99 1520.92,255.01 1523.37,255.01 1526.64,258.04 1528.69,258.04 1530.33,256.24 1532.37,256.24 1536.46,259.92 1549.56,263.19 1552.42,264.01 1554.88,266.06 1560.61,267.28 1570.43,273.01 1574.52,273.01 1576.56,275.06 1578.61,274.08 1584.75,274.08 1587.2,277.92 1591.7,279.39 1595.55,283.17 1601.28,283.17 1602.5,282.02 1606.19,286.11 1609.05,286.11 1612.73,289.14 1616.42,289.14 1619.28,291.19 1622.14,291.19 1628.28,296.1 1632.37,297.08 1635.65,297.08 1638.92,300.02 1641.37,300.02 1644.65,303.05 1665.11,312.05 1668.79,314.92 1674.11,314.92 1676.15,319.01 1701.93,329.65 1705.2,332.92 1717.48,337.01 1722.39,340.29 1730,343.15 1730,350.11 1718.3,345.03 1710.93,341.92 1702.75,338.24 1698.66,335.38 1685.56,330.47 1678.2,326.37 1673.29,324.33 1670.02,321.06 1666.33,321.06 1662.65,317.78 1641.37,308.78 1637.28,305.92 1634.01,305.1 1630.74,303.05 1624.6,301.01 1620.1,297.98 1615.19,297.98 1609.05,294.05 1602.91,291.19 1600.46,289.55 1595.55,289.55 1593.75,290.03 1589.66,286.1 1583.11,283.65 1581.47,280.38 1578.61,280.38 1575.34,282.01 1572.06,278.74 1568.38,278.74 1561.42,275.88 1558.15,272.85 1552.42,272.85 1548.74,269.98 1541.37,268.76 1538.51,266.87 1533.6,265.89 1531.55,263.6 1530.74,264.83 1524.6,264.83 1520.92,261.96 1519.28,262.78 1517.23,262.78 1514.37,261.55 1511.51,259.75 1507.41,259.75 1506.6,259.1 1504.55,253.78 1500.46,252.96 1498.41,255.83 1495.55,255.83 1491.87,254.19 1487.36,252.96 1484.5,259.1 1484.44,258.83 1480.75,253.1 1477.89,256.95 1476.66,255.97 1474.21,250.89 1469.71,250.89 1466.43,248.85 1464.39,246.96 1462.75,249.83 1461.52,249.83 1453.75,241.81 1452.93,241.81 1450.07,245.74 1448.84,245.98 1446.38,243.85 1445.56,241.81 1444.34,242.87 1441.47,242.87 1440.25,243.85 1438.61,243.85 1434.52,240.99 1429.61,244.1 1425.52,239.19 1422.65,237.8 1421.01,237.8 1419.79,238.78 1416.51,238.78 1415.29,239.84 1409.56,239.84 1407.51,238.94 1403.42,234.93 1401.78,234.93 1398.1,236.98 1395.24,235.92 1387.46,245.98 1386.24,244.92 1384.19,234.93 1379.28,234.93 1377.23,234.12 1373.14,238.94 1370.69,237.96 1369.46,237.14 1367.41,238.78 1365.37,239.19 1363.73,240.83 1359.64,242.87 1358,242.87 1356.78,238.78 1355.55,238.78 1353.91,240.83 1352.27,240.83 1348.59,233.05 1346.96,233.05 1346.14,234.28 1344.84,236.64 1340.75,240.98 1337.48,237.05 1333.8,240.98 1328.48,231.98 1324.39,237.87 1317.43,244.99 1316.2,244.99 1314.16,235.99 1312.93,239.1 1307.2,231.98 1302.29,234.84 1299.43,232.96 1296.15,237.05 1294.11,235.01 1291.65,248.76 1290.43,249.98 1284.7,237.05 1276.27,246.06 1272.83,235.99 1271.19,235.99 1267.92,241.96 1264.24,237.87 1263.01,239.92 1261.78,247.94 1255.24,247.94 1252.37,237.05 1250.33,236.64 1245.83,230.92 1240.1,233.78 1237.64,233.78 1235.6,230.92 1231.51,231.98 1228.23,227.23 1227,230.1 1226.6,237.87 1225.78,244.83 1224.55,244.83 1216.78,232.96 1211.87,234.84 1208.18,234.84 1206.96,232.96 1204.91,236.64 1204.03,236.33 1201.16,233.05 1197.48,239.19 1190.52,257.85 1185.61,237.96 1183.57,237.96 1178.25,252.94 1175.38,242.87 1173.34,248.03 1165.56,240.99 1156.15,252.69 1154.52,251.46 1153.7,253.76 1147.15,253.76 1142.65,243.28 1140.61,246.72 1135.29,246.96 1134.06,255.8 1128.33,255.8 1126.69,248.19 1123.42,246.96 1118.27,256.95 1112.37,246.96 1108.69,251.87 1104.19,248.19 1100.51,258.83 1094.37,251.87 1091.51,246.15 1089.87,254.74 1083.32,254.74 1080.46,242.05 1076.78,251.06 1073.5,244.1 1072.68,246.15 1069.82,246.15 1066.96,262.92 1065.73,262.92 1058.3,262.94 1056.66,256.15 1055.84,259.01 1054.21,259.01 1049.71,247.96 1048.89,253.85 1042.75,253.85 1041.11,252.87 1038.66,259.01 1036.2,252.05 1034.16,252.05 1032.52,265.97 1026.38,265.97 1023.27,245.51 1021.47,255.57 1019.43,255.57 1018.2,253.28 1016.15,260.65 1012.06,261.06 1008.79,266.37 1005.92,266.95 1005.11,265.97 1001.42,265.97 997.74,254.51 996.1,256.15 994.88,277.83 988.33,277.83 985.47,268.01 981.37,261.06 978.27,265.15 975.24,259.83 971.15,268.83 966.24,247.55 959.28,247.55 958.05,258.19 956.01,267.6 950.28,268.01 949.87,269.89 943.32,269.89 940.87,259.83 939.64,261.06 934.73,259.83 932.27,256.15 930.23,262.28 928.94,268.28 925.66,270.74 919.53,271.96 916.66,264.6 913.39,278.92 906.43,269.92 902.75,270.74 900.7,260.92 898.66,276.87 890.07,276.87 888.02,264.19 884.75,264.19 882.7,275.65 876.97,276.46 874.11,267.87 870.43,278.92 867.4,271.55 863.88,278.92 860.61,269.92 858.97,267.87 856.1,268.69 850.38,255.6 847.92,268.28 845.06,277.28 842.19,280.15 837.28,280.97 831.39,292.01 826.24,277.69 825.01,282.6 822.55,283.01 817.23,281.78 816.01,280.97 810.28,280.97 808.23,271.96 806.6,282.6 803.73,283.83 795.14,283.83 789,274.83 787.77,283.01 784.62,282.78 781.34,282.78 780.93,285.89 773.98,286.06 772.34,286.87 770.7,286.46 762.52,286.46 761.7,287.69 756.38,287.69 755.97,286.87 753.27,286.87 752.7,280.74 751.06,280.74 749.84,285.89 743.29,285.89 742.06,284.01 740.83,286.87 736.74,293.01 735.52,293.01 733.88,288.51 731.83,289.74 725.29,290.97 723.65,288.1 722.83,288.51 717.92,291.78 715.06,291.78 713.83,290.97 706.46,291.78 696.64,291.78 696.24,293.01 694.6,293.01 687.23,293.01 686.01,292.6 678.23,293.83 676.19,293.01 675.78,297.92 674.55,297.92 667.18,293.01 666.78,295.06 654.09,295.06 653.68,295.88 650,295.88" fill="#000" stroke="none"/>
<polyline points="1726,344.5 1748,354.8 1772,365.6 1782.9,370.2 1785.9,461" stroke="#000" stroke-width="6.6" stroke-linejoin="miter"/>
<polygon points="196,1158 196,846 197.99,844.99 216.19,838.45 235.83,831.9 243.68,827.32 255.47,825.35 267.25,820.11 270,819.9 281.78,815.97 287.68,810.08 292.26,812.7 298.15,808.12 301.42,810.08 309.28,807.14 312.55,803.08 319.75,803.08 324.34,799.93 327.61,798.95 334.16,799.93 340.05,797.32 345.29,793.06 347.25,794.04 351.18,791.1 353.14,792.08 358.38,790.11 366.24,786.84 377.36,784.22 384.57,783.9 389.93,779.97 390.47,779.83 396.58,779.83 404.44,774.16 412.3,774.16 422.77,769.79 443.72,764.56 449.83,761.94 462.05,759.32 468.16,756.26 484.75,752.33 504.82,745.79 523.15,741.86 528.39,739.24 540,736.62 540,744.04 530.14,745.35 524.03,748.41 510.93,751.46 488.24,757.57 472.53,762.37 467.29,763.25 452.45,767.61 446.34,770.23 428.88,775.47 422.77,777.21 412.3,780.7 406.19,780.7 397.46,786.81 390.47,787.25 389.93,788.15 384.57,790.11 374.75,792.41 366.89,796.33 361.65,796.33 356.42,799.61 353.8,798.95 349.87,801.9 346.92,801.24 343.98,803.21 340.7,804.52 332.85,807.14 328.92,806.15 324.34,809.75 319.75,811.06 315.17,810.08 312.55,813.68 306.66,815.97 299.46,816.3 296.19,817.94 291.6,819.9 288.99,819.25 281.78,822.85 274.58,825.47 270,826.78 268.56,826.66 259.39,831.57 246.3,834.52 241.06,836.81 229.28,840.74 218.81,844.99 203.09,849.9 203.1,851 203,1130 202.4,1141 202.2,1158" fill="#ff0000" stroke="none"/>
<polyline points="1782.5,472 1785.6,329.2" stroke="#ff0000" stroke-width="5.9"/>
<polyline points="538.22,740.78 542.19,739.66 546.17,738.54 550.14,737.42 554.12,736.3 558.09,735.19 562.06,734.08 566.04,732.97 570.01,731.86 573.98,730.75 577.96,729.65 581.93,728.55 585.9,727.45 589.88,726.36 593.85,725.26 597.82,724.17 601.8,723.09 605.77,722.01 609.74,720.94 613.72,719.87 617.69,718.8 621.66,717.74 625.64,716.68 629.61,715.62 633.58,714.56 637.56,713.5 641.53,712.45 645.51,711.4 649.48,710.35 653.45,709.3 657.43,708.25 661.4,707.21 665.37,706.17 669.35,705.13 673.32,704.09 677.29,703.05 681.27,702.02 685.24,700.99 689.21,699.96 693.19,698.93 697.16,697.91 701.13,696.88 705.11,695.85 709.08,694.83 713.05,693.81 717.03,692.79 721,691.77 724.98,690.75 728.95,689.73 732.92,688.72 736.9,687.71 740.87,686.7 744.84,685.69 748.82,684.69 752.79,683.69 756.76,682.68 760.74,681.68 764.71,680.69 768.68,679.69 772.66,678.7 776.63,677.7 780.6,676.71 784.58,675.71 788.55,674.71 792.53,673.71 796.5,672.71 800.47,671.71 804.45,670.72 808.42,669.73 812.39,668.73 816.37,667.75 820.34,666.76 824.31,665.77 828.29,664.79 832.26,663.81 836.23,662.83 840.21,661.85 844.18,660.87 848.15,659.9 852.13,658.92 856.1,657.95 860.07,656.98 864.05,656.01 868.02,655.05 872,654.08 875.97,653.12 879.94,652.16 883.92,651.2 887.89,650.24 891.86,649.28 895.84,648.33 899.81,647.38 903.78,646.43 907.76,645.48 911.73,644.53 915.7,643.58 919.68,642.64 923.65,641.69 927.62,640.75 931.6,639.81 935.57,638.87 939.54,637.94 943.52,637 947.49,636.07 951.47,635.14 955.44,634.21 959.41,633.28 963.39,632.35 967.36,631.42 971.33,630.5 975.31,629.58 979.28,628.66 983.25,627.74 987.23,626.82 991.2,625.9 995.17,624.99 999.15,624.07 1003.12,623.16 1007.09,622.25 1011.07,621.34 1015.04,620.44 1019.01,619.53 1022.99,618.63 1026.96,617.72 1030.93,616.82 1034.91,615.92 1038.88,615.02 1042.86,614.13 1046.83,613.23 1050.8,612.34 1054.78,611.44 1058.75,610.55 1062.72,609.66 1066.7,608.77 1070.67,607.89 1074.64,607 1078.62,606.12 1082.59,605.24 1086.56,604.35 1090.54,603.47 1094.51,602.6 1098.48,601.72 1102.46,600.84 1106.43,599.97 1110.4,599.1 1114.38,598.23 1118.35,597.36 1122.33,596.49 1126.3,595.62 1130.27,594.75 1134.25,593.89 1138.22,593.03 1142.19,592.16 1146.17,591.3 1150.14,590.45 1154.11,589.59 1158.09,588.73 1162.06,587.88 1166.03,587.02 1170.01,586.17 1173.98,585.32 1177.95,584.47 1181.93,583.62 1185.9,582.77 1189.88,581.93 1193.85,581.08 1197.82,580.24 1201.8,579.4 1205.77,578.56 1209.74,577.72 1213.72,576.88 1217.69,576.04 1221.66,575.21 1225.64,574.37 1229.61,573.54 1233.58,572.71 1237.56,571.88 1241.53,571.05 1245.5,570.22 1249.48,569.39 1253.45,568.57 1257.42,567.74 1261.4,566.92 1265.37,566.1 1269.35,565.28 1273.32,564.46 1277.29,563.64 1281.27,562.82 1285.24,562.01 1289.21,561.19 1293.19,560.38 1297.16,559.57 1301.13,558.76 1305.11,557.95 1309.08,557.14 1313.05,556.33 1317.03,555.52 1321,554.72 1324.97,553.92 1328.95,553.11 1332.92,552.31 1336.89,551.51 1340.87,550.71 1344.84,549.91 1348.82,549.12 1352.79,548.32 1356.76,547.53 1360.74,546.73 1364.71,545.94 1368.68,545.15 1372.66,544.36 1376.63,543.57 1380.6,542.78 1384.58,542 1388.55,541.21 1392.52,540.43 1396.5,539.64 1400.47,538.86 1404.44,538.08 1408.42,537.3 1412.39,536.52 1416.36,535.75 1420.34,534.97 1424.31,534.19 1428.28,533.42 1432.26,532.65 1436.23,531.87 1440.21,531.1 1444.18,530.33 1448.15,529.56 1452.13,528.8 1456.1,528.03 1460.07,527.26 1464.05,526.5 1468.02,525.74 1471.99,524.97 1475.97,524.21 1479.94,523.45 1483.91,522.69 1487.89,521.93 1491.86,521.18 1495.83,520.42 1499.81,519.66 1503.78,518.91 1507.76,518.16 1511.73,517.4 1515.7,516.65 1519.68,515.9 1523.65,515.15 1527.62,514.41 1531.6,513.66 1535.57,512.91 1539.54,512.17 1543.52,511.43 1547.49,510.68 1551.46,509.94 1555.44,509.2 1559.41,508.46 1563.38,507.72 1567.36,506.98 1571.33,506.25 1575.3,505.51 1579.28,504.77 1583.25,504.04 1587.23,503.31 1591.2,502.58 1595.17,501.84 1599.15,501.11 1603.12,500.39 1607.09,499.66 1611.07,498.93 1615.04,498.2 1619.01,497.48 1622.99,496.75 1626.96,496.03 1630.93,495.31 1634.91,494.59 1638.88,493.87 1642.85,493.15 1646.83,492.43 1650.8,491.71 1654.77,490.99 1658.75,490.28 1662.72,489.56 1666.7,488.85 1670.67,488.14 1674.64,487.42 1678.62,486.71 1682.59,486 1686.56,485.29 1690.54,484.58 1694.51,483.88 1698.48,483.17 1702.46,482.46 1706.43,481.76 1710.4,481.06 1714.38,480.35 1718.35,479.65 1722.32,478.95 1726.3,478.25 1730.27,477.55 1734.24,476.85 1738.22,476.15 1742.19,475.46 1746.17,474.76 1750.14,474.07 1754.11,473.37 1758.09,472.68 1762.06,471.99 1766.03,471.29 1770.01,470.6 1773.98,469.91 1777.95,469.23 1781.93,468.54 1782.6,468.4" stroke="#ff0000" stroke-width="7" stroke-linejoin="miter"/>
</g>
<g fill="#000" shape-rendering="crispEdges">
<rect x="195" y="54" width="3" height="1103"/>
<rect x="1784" y="54" width="4" height="1103"/>
<rect x="195" y="54" width="1593" height="4"/>
<rect x="195" y="1153" width="1593" height="4"/>
</g>
<g shape-rendering="crispEdges" fill="none">
<path d="M1565 769.5H1714" stroke="#1a1a1a" stroke-width="7" stroke-dasharray="34 31.4"/>
<path d="M1565 851.5H1714" stroke="#1a1a1a" stroke-width="7" stroke-dasharray="17.4 15.3"/>
<path d="M1565 933H1714" stroke="#1a1a1a" stroke-width="22" stroke-dasharray="22.5 21.1"/>
<path d="M1565 1015H1714" stroke="#000" stroke-width="6"/>
<path d="M1565 1096.5H1714" stroke="#ff0000" stroke-width="7"/>
</g>
<g>
<text class="g" transform="translate(1466.1 783.1) scale(1.1 1.015)">λ</text>
<text class="ks" x="1509.1" y="798.7">1</text>
</g>
<g>
<text class="g" transform="translate(1466.1 864.9) scale(1.1 1.015)">λ</text>
<text class="ks" x="1508.2" y="879.9">2</text>
</g>
<g>
<text class="g" transform="translate(1368.1 947) scale(1.1 1.015)">λ</text>
<text class="ks" x="1411.2" y="962">1</text>
<text class="k" x="1435.3" y="952">+</text>
<text class="g" transform="translate(1466.1 947) scale(1.1 1.015)">λ</text>
<text class="ks" x="1508.2" y="962">2</text>
</g>
<text class="k" transform="translate(1418.6 1032.8) scale(1 1.09)">ECD</text>
<text class="k" transform="translate(1382.5 1115) scale(1 1.09)">EECD</text>
<text class="t" x="157.7" y="78.1" text-anchor="end">1.5</text>
<text class="t" x="157.7" y="215.47" text-anchor="end">1</text>
<text class="t" x="157.7" y="352.85" text-anchor="end">0.5</text>
<text class="t" x="157.7" y="490.23" text-anchor="end">0</text>
<text class="t" x="157.7" y="627.6" text-anchor="end">-0.5</text>
<text class="t" x="157.7" y="764.98" text-anchor="end">-1</text>
<text class="t" x="157.7" y="902.35" text-anchor="end">-1.5</text>
<text class="t" x="157.7" y="1039.72" text-anchor="end">-2</text>
<text class="t" x="157.7" y="1177.1" text-anchor="end">-2.5</text>
<text class="t" x="206.05" y="1242.2" text-anchor="middle">0.5</text>
<text class="t" x="523.89" y="1242.2" text-anchor="middle">0.6</text>
<text class="t" x="841.73" y="1242.2" text-anchor="middle">0.7</text>
<text class="t" x="1159.57" y="1242.2" text-anchor="middle">0.8</text>
<text class="t" x="1477.41" y="1242.2" text-anchor="middle">0.9</text>
<text class="t" x="1795.25" y="1242.2" text-anchor="middle">1</text>
<text class="t" transform="translate(973.1 1340.2) scale(0.96 1)">a</text>
<g fill="#fff">
<rect x="70.64" y="72.5" width="12.6" height="6"/>
<rect x="89.02" y="72.5" width="12.6" height="6"/>
<rect x="125.12" y="209.5" width="12.6" height="6"/>
<rect x="143.51" y="209.5" width="12.6" height="6"/>
<rect x="125.12" y="759.5" width="12.6" height="6"/>
<rect x="143.51" y="759.5" width="12.6" height="6"/>
<rect x="70.37" y="896.5" width="12.6" height="6"/>
<rect x="88.75" y="896.5" width="12.6" height="6"/>
<rect x="1780.88" y="1236.5" width="12.6" height="6"/>
<rect x="1799.26" y="1236.5" width="12.6" height="6"/>
<rect x="1510.88" y="794.5" width="9.2" height="5"/>
<rect x="1523.94" y="794.5" width="9.2" height="5"/>
<rect x="1413.13" y="957.5" width="9.2" height="5"/>
<rect x="1426.2" y="957.5" width="9.2" height="5"/>
</g>
</svg></body></html>
